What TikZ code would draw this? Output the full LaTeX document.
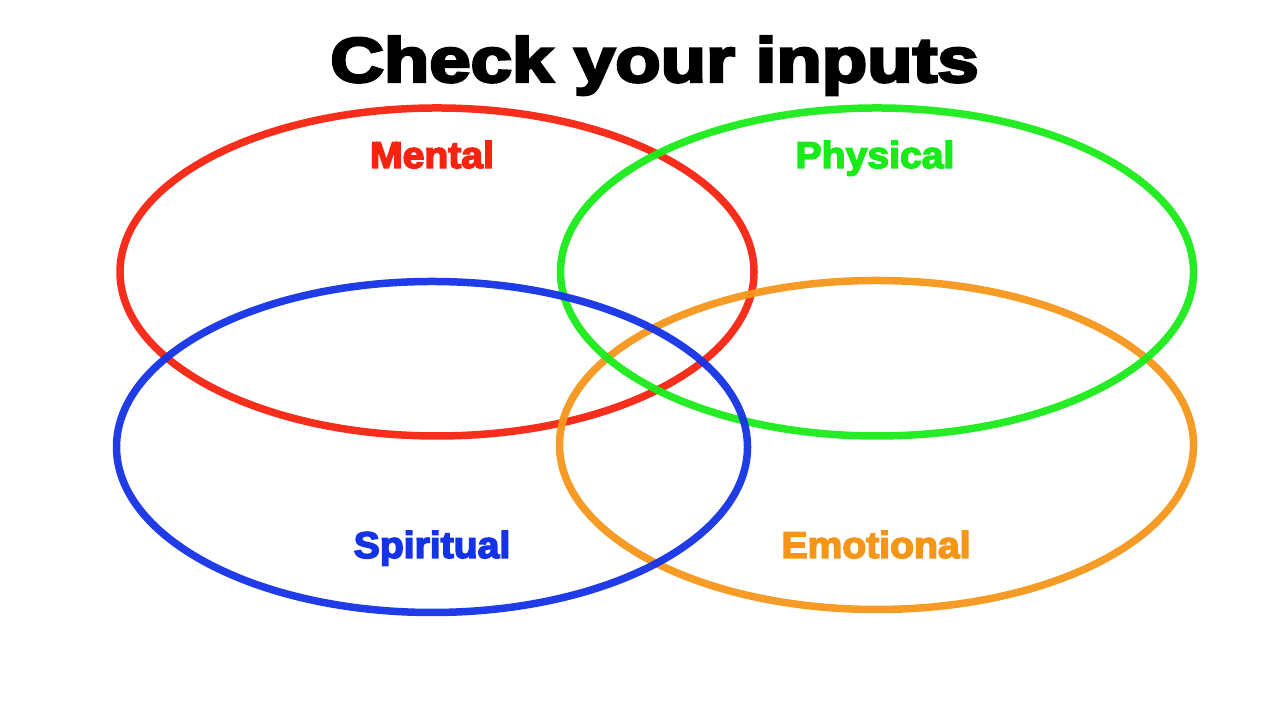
\documentclass[tikz,border=0pt]{standalone}
\usepackage{fontspec}
\setmainfont{Liberation Sans}
\newfontfamily\heavyfont[FakeBold=4]{Liberation Sans Bold}
\usetikzlibrary{positioning}

\definecolor{mentalred}{RGB}{245,35,15}
\definecolor{physgreen}{RGB}{25,235,25}
\definecolor{spiritblue}{RGB}{20,50,230}
\definecolor{emoorange}{RGB}{245,150,25}

\tikzset{
  ring/.style={line width=0.075cm, draw opacity=0.95},
  tag/.style={font=\heavyfont\fontsize{10.6}{12}\selectfont, anchor=base, xscale=1.05, transform shape}
}

\begin{document}
\begin{tikzpicture}
    \useasboundingbox (0,0) rectangle (12.8,7.2);

    % Title
    \node[font=\heavyfont\fontsize{18}{20}\selectfont, anchor=base, xscale=1.175, transform shape] (title) at (6.545,6.38) {Check your inputs};

    % Mental - red (top left)
    \draw[ring, mentalred] (4.37,4.48) ellipse [x radius=3.17, y radius=1.64];
    % Emotional - orange (bottom right)
    \draw[ring, emoorange] (8.765,2.75) ellipse [x radius=3.17, y radius=1.645];
    % Physical - green (top right)
    \draw[ring, physgreen] (8.77,4.48) ellipse [x radius=3.165, y radius=1.64];
    % Spiritual - blue (bottom left)
    \draw[ring, spiritblue] (4.32,2.73) ellipse [x radius=3.155, y radius=1.655];

    % Labels
    \node[tag, text=mentalred] (mental) at (4.32,5.52) {Mental};
    \node[tag, text=physgreen] (physical) at (8.75,5.52) {Physical};
    \node[tag, text=spiritblue] (spiritual) at (4.32,1.62) {Spiritual};
    \node[tag, text=emoorange] (emotional) at (8.76,1.62) {Emotional};
\end{tikzpicture}
\end{document}
